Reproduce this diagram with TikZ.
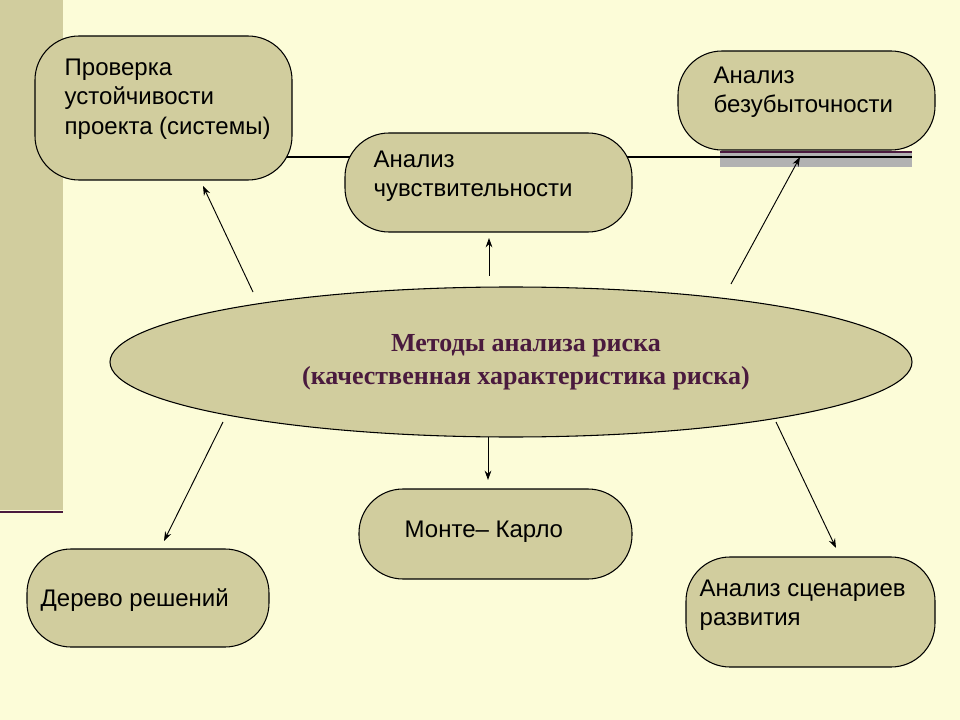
\documentclass[tikz,border=0pt]{standalone}
\usepackage{fontspec}
\setmainfont{Liberation Sans}
\newfontfamily\serifb{Liberation Serif}
\usetikzlibrary{shapes.geometric,arrows.meta}
\definecolor{bg}{HTML}{FCFCD8}
\definecolor{kh}{HTML}{D1CD9E}
\definecolor{pur}{HTML}{4A1A3E}
\tikzset{box/.style={draw=black,fill=kh,rounded corners=33pt,line width=0.8pt},
 lbl/.style={anchor=west,align=left,font=\fontsize{18}{22}\selectfont,text=black},
 arr/.style={-{Stealth[length=7pt,width=5pt]},line width=0.7pt}}
\begin{document}
\begin{tikzpicture}[x=0.75pt,y=-0.75pt]
\useasboundingbox (0,0) rectangle (960,720);
\fill[bg] (0,0) rectangle (960,720);
\fill[kh] (0,0) rectangle (63,510);
\draw[pur,line width=2.2pt] (0,512) -- (63,512);
\fill[black!30] (720,152) rectangle (912,167);
\draw[pur,line width=1.5pt] (720,152) -- (912,152);
\draw[line width=1pt] (40,157) -- (912,157);
\path[box] (35,36) rectangle (292,180);
\node[lbl] (p) at (60,99) {Проверка\\устойчивости\\проекта (системы)};
\path[box] (678,51) rectangle (935,150);
\node[lbl] (b) at (709,92) {Анализ\\безубыточности};
\path[box] (345,133) rectangle (632,232);
\node[lbl] (c) at (369,176) {Анализ\\чувствительности};
\node[ellipse,draw=black,fill=kh,line width=0.8pt,minimum width=802*0.75pt,minimum height=150*0.75pt] (e) at (511,362) {};
\node[align=center,font=\serifb\bfseries\fontsize{19.5}{25}\selectfont,text=pur] (et) at (526,362) {Методы анализа риска\\(качественная характеристика риска)};
\path[box] (359,489) rectangle (632,579);
\node[lbl] (m) at (400,532) {Монте– Карло};
\path[box] (27,549) rectangle (269,647);
\node[lbl] (d) at (36,600) {Дерево решений};
\path[box] (686,557) rectangle (935,667);
\node[lbl] (s) at (695,605) {Анализ сценариев\\развития};
\coordinate (a1s) at (253,292); \coordinate (a1e) at (203,186);
\coordinate (a2s) at (489,276); \coordinate (a2e) at (489,238);
\coordinate (a3s) at (731,284); \coordinate (a3e) at (800,157);
\coordinate (a4s) at (223,422); \coordinate (a4e) at (164,541);
\coordinate (a5s) at (488,437); \coordinate (a5e) at (488,480);
\coordinate (a6s) at (776,422); \coordinate (a6e) at (836,548);
\foreach \i in {1,...,6} \draw[arr] (a\i s) -- (a\i e);
\end{tikzpicture}
\end{document}
